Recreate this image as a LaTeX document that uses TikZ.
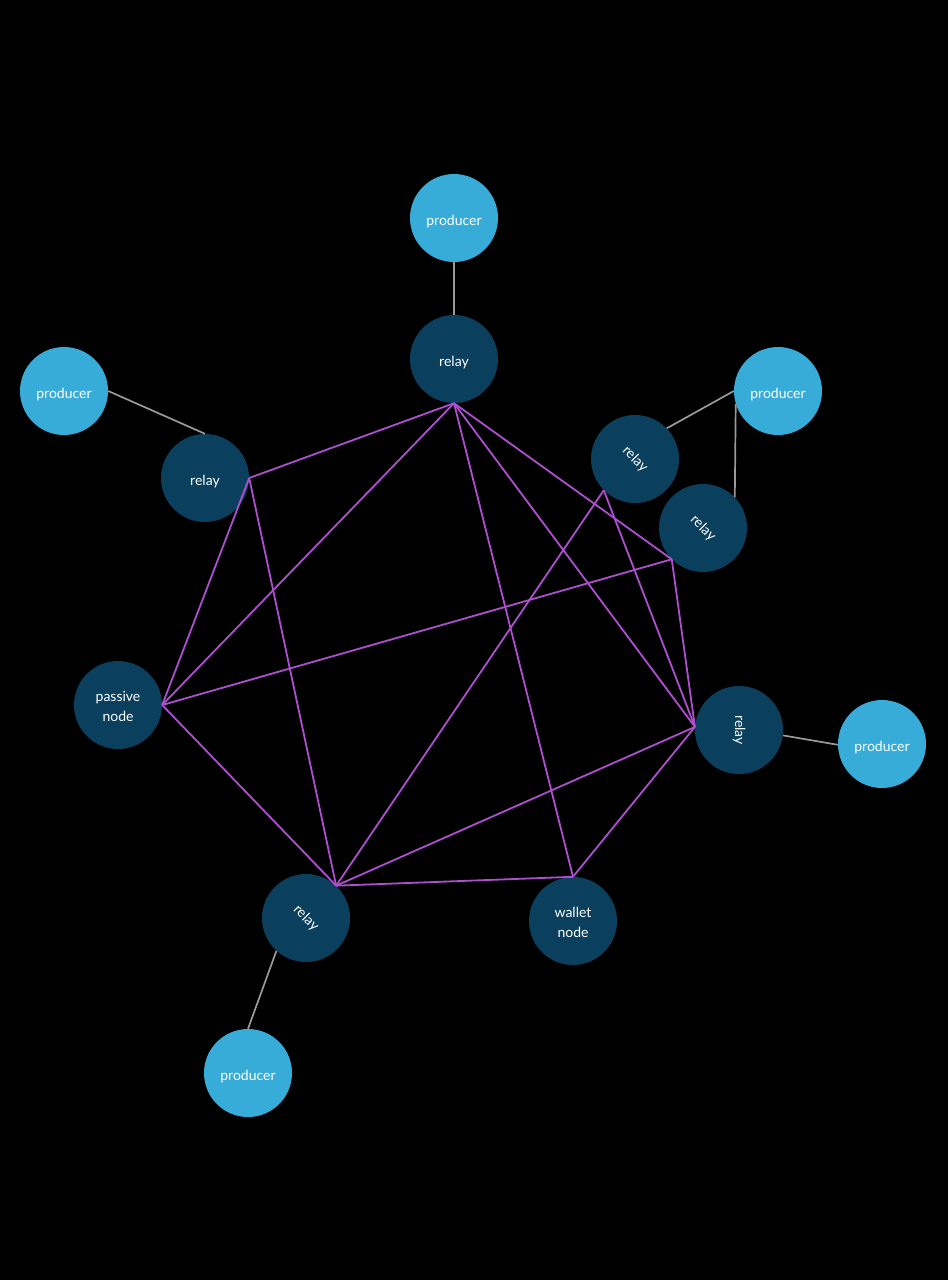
\documentclass[tikz,border=0pt]{standalone}
\usepackage{fontspec}
\setmainfont{Lato}
\definecolor{prodc}{HTML}{38ACD9}
\definecolor{relayc}{HTML}{0A3F5E}
\definecolor{meshc}{HTML}{AE4FD0}
\definecolor{linkc}{HTML}{9A9A9A}
\begin{document}
\begin{tikzpicture}[x=1pt,y=-1pt,
  nd/.style={circle,minimum size=88pt,inner sep=0pt,text=white,font=\fontsize{14}{20}\selectfont},
  one/.style={text height=14pt,text depth=0pt},
  two/.style={align=center},
  prod/.style={nd,fill=prodc,one},
  rel/.style={nd,fill=relayc},
  mesh/.style={draw=meshc,line width=1.8pt},
  link/.style={draw=linkc,line width=1.7pt}]
\fill[black] (0,0) rectangle (948,1280);
\useasboundingbox (0,0) rectangle (948,1280);
% nodes
\node[prod] (p1) at (454,218) {producer};
\node[rel,one]  (r1) at (454,359) {relay};
\node[prod] (p2) at (64,391) {producer};
\node[rel,one]  (r2) at (205,478) {relay};
\node[prod] (p3) at (778,391) {producer};
\node[rel]  (r3) at (635,459) {\rotatebox{-45}{relay}};
\node[rel]  (r4) at (703,528) {\rotatebox{-45}{relay}};
\node[rel,two]  (pn) at (118,705) {\raisebox{0pt}[14pt][0pt]{}passive\\node\raisebox{0pt}[0pt][1pt]{}};
\node[rel]  (r5) at (739,730) {\rotatebox{-90}{relay}};
\node[prod] (p4) at (882,744) {producer};
\node[rel]  (r6) at (306,918) {\rotatebox{-45}{relay}};
\node[rel,two]  (wn) at (573,921) {\raisebox{0pt}[14pt][0pt]{}wallet\\node\raisebox{0pt}[0pt][1pt]{}};
\node[prod] (p5) at (248,1073) {producer};
% gray links
\draw[link] (p1.south) -- (r1.north);
\draw[link] (p2.east) -- (r2.north);
\draw[link] (p3.west) -- (r3.44);
\draw[link] (p3.197) -- (r4.44);
\draw[link] (r5.-7) -- (p4.181);
\draw[link] (r6.228) -- (p5.north);
% mesh
\draw[mesh] (r1.south) -- (r2.east);
\draw[mesh] (r1.south) -- (pn.east);
\draw[mesh] (r1.south) -- (wn.north);
\draw[mesh] (r1.south) -- (r4.225);
\draw[mesh] (r1.south) -- (r5.176);
\draw[mesh] (r2.east) -- (pn.east);
\draw[mesh] (r2.east) -- (r6.47);
\draw[mesh] (pn.east) -- (r4.225);
\draw[mesh] (pn.east) -- (r6.47);
\draw[mesh] (r3.225) -- (r6.47);
\draw[mesh] (r3.225) -- (r5.176);
\draw[mesh] (r4.225) -- (r5.176);
\draw[mesh] (r6.47) -- (r5.176);
\draw[mesh] (r6.47) -- (wn.north);
\draw[mesh] (wn.north) -- (r5.176);
\end{tikzpicture}
\end{document}
